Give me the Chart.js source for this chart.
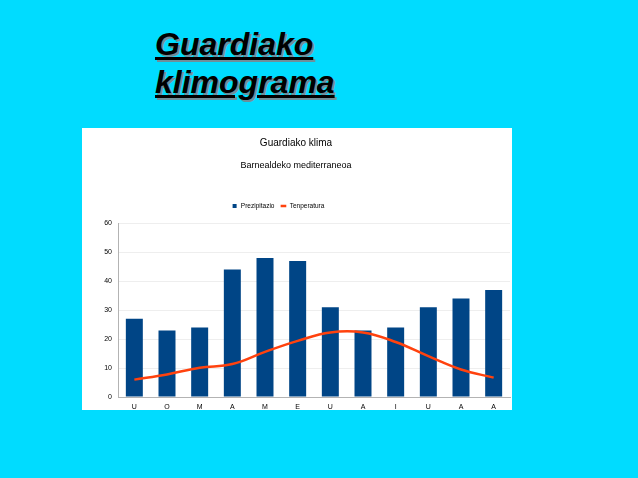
<!DOCTYPE html>
<html>
<head>
<meta charset="utf-8">
<script src="https://cdn.jsdelivr.net/npm/chart.js@4"></script>
<style>
  html, body { margin: 0; padding: 0; }
  body { width: 638px; height: 478px; background: #00dcff; position: relative; overflow: hidden; }
  .izenburua {
    position: absolute; left: 155px; top: 25px;
    font-family: "Liberation Sans", Arial, sans-serif;
    font-size: 32px; font-weight: bold; font-style: italic;
    text-decoration: underline; line-height: 38px;
    color: #000; text-shadow: 2px 2px 0 #6f8f9a;
  }
  .kutxa { position: absolute; left: 82px; top: 128px; width: 430px; height: 282px; background: #fff; }
</style>
</head>
<body>
<div class="izenburua">Guardiako<br>klimograma</div>
<div class="kutxa"><canvas id="grafikoa" width="430" height="282"></canvas></div>
<script>
const hilabeteak = ['U', 'O', 'M', 'A', 'M', 'E', 'U', 'A', 'I', 'U', 'A', 'A'];
const prezipitazioa = [27, 23, 24, 44, 48, 47, 31, 23, 24, 31, 34, 37];
const tenperatura = [6.0, 7.8, 10.1, 11.4, 15.6, 19.4, 22.3, 22.3, 19.0, 14.1, 9.5, 6.7];

const letra = "'Liberation Sans', Arial, sans-serif";

// legenda pixka bat ezkerrera eta gorago, jatorrizkoan bezala
const legendaMugitu = {
    id: 'legendaMugitu',
    afterLayout(chart) {
        chart.legend.left -= 18;
        chart.legend.right -= 18;
        chart.legend.top -= 4;
        chart.legend.bottom -= 4;
    }
};

var konfig = {
    type: 'bar',
    data: {
        labels: hilabeteak,
        datasets: [{
            type: 'line',
            label: 'Tenperatura',
            data: tenperatura,
            borderColor: '#ff420e',
            backgroundColor: '#ff420e',
            borderWidth: 2.5,
            pointRadius: 0,
            pointStyle: 'line',
            tension: 0.4,
            order: 0
        }, {
            label: 'Prezipitazio',
            data: prezipitazioa,
            backgroundColor: '#004586',
            pointStyle: 'rect',
            barPercentage: 0.52,
            categoryPercentage: 1,
            order: 1
        }]
    },
    plugins: [legendaMugitu],
    options: {
        responsive: false,
        animation: false,
        layout: { padding: { left: 0, right: 2, bottom: 0 } },
        plugins: {
            title: {
                display: true,
                text: 'Guardiako klima',
                color: '#000',
                font: { family: letra, size: 10, weight: 'normal' },
                padding: { top: 9, bottom: 7 }
            },
            subtitle: {
                display: true,
                text: 'Barnealdeko mediterraneoa',
                color: '#000',
                font: { family: letra, size: 9 },
                padding: { top: 4, bottom: 30 }
            },
            legend: {
                reverse: true,
                labels: {
                    usePointStyle: true,
                    boxWidth: 6,
                    boxHeight: 4,
                    font: { family: letra, size: 6.5 },
                    color: '#000',
                    padding: 6
                }
            },
            tooltip: { enabled: false }
        },
        scales: {
            x: {
                grid: { display: true, drawOnChartArea: false, drawTicks: false },
                border: { color: '#b3b3b3' },
                ticks: { color: '#000', font: { family: letra, size: 7 }, padding: 6 },
                afterFit(scale) { scale.height = 13; }
            },
            y: {
                min: 0,
                max: 60,
                ticks: { stepSize: 10, color: '#000', font: { family: letra, size: 7 }, padding: 6 },
                grid: { color: '#eeeeee', tickLength: 0 },
                border: { color: '#b3b3b3' },
                afterFit(scale) { scale.width = 36; }
            }
        }
    }
};

var grafikoa = new Chart(document.getElementById('grafikoa'), konfig);
</script>
</body>
</html>
